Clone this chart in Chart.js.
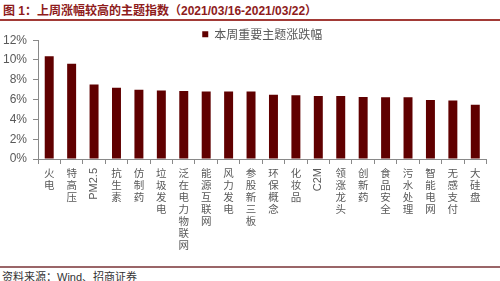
<!DOCTYPE html>
<html>
<head>
<meta charset="utf-8">
<script src="https://cdn.jsdelivr.net/npm/chart.js@4.4.1/dist/chart.umd.min.js"></script>
<style>
body{margin:0;width:500px;height:281px;background:#fff;position:relative;overflow:hidden;font-family:"Noto Sans CJK SC",sans-serif}
#title{position:absolute;left:3px;top:1px;font:bold 12px "Liberation Sans","Noto Sans CJK SC",sans-serif;color:#8e1b1b;white-space:nowrap}
#tline{position:absolute;left:0;top:19px;width:500px;height:2px;background:#a23a36}
#wrap{position:absolute;left:0;top:27px;width:500px;height:237px}
#fline{position:absolute;left:0;top:266px;width:500px;height:2px;background:#9a6568}
#src{position:absolute;left:2px;top:268px;font:11px "Liberation Sans","Noto Sans CJK SC",sans-serif;color:#333;white-space:nowrap}
</style>
</head>
<body>
<div id="title">图 1：上周涨幅较高的主题指数（2021/03/16-2021/03/22）</div>
<div id="tline"></div>
<div id="wrap"><canvas id="chart"></canvas></div>
<div id="fline"></div>
<div id="src">资料来源：Wind、招商证券</div>
<script>
// values (%)
const themes = ['火电','特高压','PM2.5','抗生素','仿制药','垃圾发电','泛在电力物联网','能源互联网','风力发电','参股新三板',
                '环保概念','化妆品','C2M','领涨龙头','创新药','食品安全','污水处理','智能电网','无感支付','大硅盘']
const weekChange = [10.37,9.63,7.53,7.2,7.0,6.93,6.87,6.83,6.83,6.83,
                    6.5,6.43,6.37,6.37,6.27,6.23,6.23,5.97,5.9,5.47]
const yTicks = [0,2,4,6,8,10,12]
const seriesName = '本周重要主题涨跌幅'

// stacked vertical category labels, latin ones turned on their side
const xLabels = {
  id:'xLabels',
  afterDraw(chart){
    const sc = chart.scales.x
    const ctx = chart.ctx
    themes.forEach((lab,i)=>{
      const x = sc.getPixelForTick(i)
      const top = sc.top + 9
      ctx.save()
      ctx.fillStyle = '#595959'
      if (/^[\x00-\x7f]+$/.test(lab)) {
        ctx.font = '11px "Liberation Sans"'
        ctx.translate(x, top)
        ctx.rotate(-Math.PI/2)
        ctx.textAlign = 'right'
        ctx.textBaseline = 'middle'
        ctx.fillText(lab, 0, 0)
      } else {
        ctx.font = '10.5px "Noto Sans CJK SC"'
        ctx.textAlign = 'center'
        ctx.textBaseline = 'middle'
        for (let k = 0; k < lab.length; k++) {
          ctx.fillText(lab[k], x, top + 5 + k*12)
        }
      }
      ctx.restore()
    })
  }
}

new Chart(document.getElementById('chart'), {
  type:'bar',
  data:{
    labels: themes,
    datasets:[{
      label: seriesName,
      data: weekChange,
      backgroundColor:'#600000',
      barPercentage:0.4,
      categoryPercentage:1.0
    }]
  },
  options:{
    responsive:true,
    maintainAspectRatio:false,
    animation:false,
    layout:{padding:{left:0,right:13.5,top:0,bottom:0}},
    plugins:{
      legend:{
        position:'top',
        fullSize:false,
        maxHeight:12,
        labels:{
          boxWidth:6, boxHeight:6, padding:0,
          color:'#595959',
          font:{family:'"Noto Sans CJK SC"', size:12}
        }
      },
      tooltip:{enabled:false}
    },
    scales:{
      x:{
        grid:{offset:true, drawOnChartArea:false, tickLength:5, color:'#898989'},
        border:{color:'#898989'},
        ticks:{display:false},
        afterFit(s){ s.height = 105 }
      },
      y:{
        min:0, max:12,
        afterBuildTicks(s){ s.ticks = yTicks.map(v=>({value:v})) },
        grid:{drawOnChartArea:false, tickLength:5, color:'#898989'},
        border:{color:'#898989'},
        ticks:{
          color:'#595959', padding:6,
          font:{family:'"Liberation Sans"', size:12},
          callback:v=>v+'%'
        },
        afterFit(s){ s.width = 38 }
      }
    }
  },
  plugins:[xLabels]
})
</script>
</body>
</html>
